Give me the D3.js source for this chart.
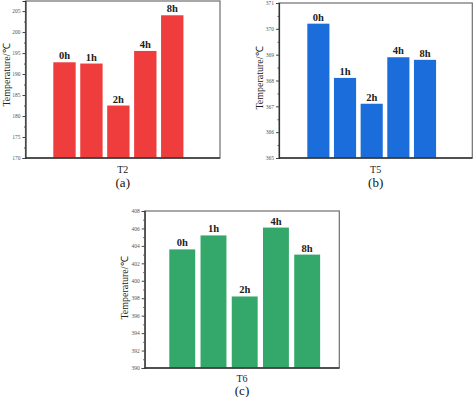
<!DOCTYPE html>
<html><head><meta charset="utf-8">
<script src="https://cdn.jsdelivr.net/npm/d3@7"></script>
<style>body{margin:0;background:#fff}svg{display:block}</style>
</head><body>
<svg id="c" width="474" height="397"></svg>
<script>
const categories = ["0h","1h","2h","4h","8h"];
const t2Values = [192.8, 192.5, 182.5, 195.5, 204.0];
const t5Values = [370.2, 368.1, 367.1, 368.9, 368.8];
const t6Values = [403.6, 405.2, 398.2, 406.1, 403.0];
const t2Ticks = [170,175,180,185,190,195,200,205];
const t5Ticks = [365,366,367,368,369,370,371];
const t6Ticks = [390,392,394,396,398,400,402,404,406,408];

const svg = d3.select("#c");
const serif = "'Liberation Serif','Times New Roman',serif";

const panels = [
  {name:"T2", tag:"(a)", values:t2Values, ticks:t2Ticks, color:"#ef3d3d",
   domain:[170,207.4], left:25.5, right:220, top:1, bottom:158, barL:53.3, barR:179,
   minorStep:2.5, ylabX:6, ylabY:75, xlabY:173, tagY:187},
  {name:"T5", tag:"(b)", values:t5Values, ticks:t5Ticks, color:"#1b6ddc",
   domain:[365,371], left:279, right:472.3, top:3, bottom:158, barL:307.3, barR:431.7,
   minorStep:0.5, ylabX:259, ylabY:78, xlabY:173, tagY:187},
  {name:"T6", tag:"(c)", values:t6Values, ticks:t6Ticks, color:"#34a86a",
   domain:[390,408], left:144.7, right:339.3, top:211, bottom:368, barL:169.3, barR:315,
   minorStep:1, ylabX:124, ylabY:288, xlabY:382, tagY:395}
];

panels.forEach(p => {
  const g = svg.append("g");
  const y = d3.scaleLinear().domain(p.domain).range([p.bottom, p.top]);
  const pad = 0.17;
  const step = (p.barR - p.barL) / (categories.length - pad);
  const x = d3.scaleBand().domain(categories)
    .range([p.barL, p.barL + step * categories.length]).paddingInner(pad).paddingOuter(0);

  // frame
  g.append("rect").attr("x", p.left).attr("y", p.top)
    .attr("width", p.right - p.left).attr("height", p.bottom - p.top)
    .attr("fill", "none").attr("stroke", "#6e6e6e").attr("stroke-width", 1.2);

  // bars
  g.selectAll("rect.bar").data(p.values).enter().append("rect")
    .attr("class","bar")
    .attr("x", (d,i) => x(categories[i]))
    .attr("width", x.bandwidth())
    .attr("y", d => y(d))
    .attr("height", d => p.bottom - y(d))
    .attr("fill", p.color);

  // bar labels
  g.selectAll("text.lab").data(p.values).enter().append("text")
    .attr("x", (d,i) => x(categories[i]) + x.bandwidth()/2)
    .attr("y", d => y(d) - 3)
    .attr("text-anchor","middle")
    .attr("font-family", serif).attr("font-size", 10.5).attr("font-weight","bold")
    .attr("fill","#222")
    .text((d,i) => categories[i]);

  // minor ticks
  const minors = d3.range(p.domain[0], p.ticks[p.ticks.length-1] + 1e-9, p.minorStep)
    .filter(v => !p.ticks.some(t => Math.abs(t - v) < 1e-6));
  const ax = d3.axisLeft(y).tickValues(p.ticks).tickSize(3).tickPadding(2).tickFormat(d3.format("d"));
  const axg = g.append("g").attr("transform", `translate(${p.left},0)`).call(ax);
  axg.select(".domain").attr("stroke","#333").attr("stroke-width",1.2);
  axg.selectAll(".tick line").attr("stroke","#444");
  axg.selectAll(".tick text").attr("font-family", serif).attr("font-size", 5.5).attr("fill","#555");
  const mi = d3.axisLeft(y).tickValues(minors).tickSize(1.5).tickFormat("");
  const mig = g.append("g").attr("transform", `translate(${p.left},0)`).call(mi);
  mig.select(".domain").remove();
  mig.selectAll(".tick line").attr("stroke","#555");

  // bottom axis line
  g.append("line").attr("x1", p.left).attr("x2", p.right).attr("y1", p.bottom).attr("y2", p.bottom)
    .attr("stroke","#333").attr("stroke-width",1.4);

  // y label
  g.append("text").attr("transform", `translate(${p.ylabX},${p.ylabY}) rotate(-90)`)
    .attr("text-anchor","middle").attr("dominant-baseline","central")
    .attr("font-family", serif).attr("font-size", 10).attr("fill","#222")
    .text("Temperature/℃");

  const cx = (p.left + p.right) / 2;
  g.append("text").attr("x", cx).attr("y", p.xlabY).attr("text-anchor","middle")
    .attr("font-family", serif).attr("font-size", 10).attr("fill","#222").text(p.name);
  g.append("text").attr("x", cx).attr("y", p.tagY).attr("text-anchor","middle")
    .attr("font-family", serif).attr("font-size", 13).attr("fill","#111").text(p.tag);
});
</script>
</body></html>
